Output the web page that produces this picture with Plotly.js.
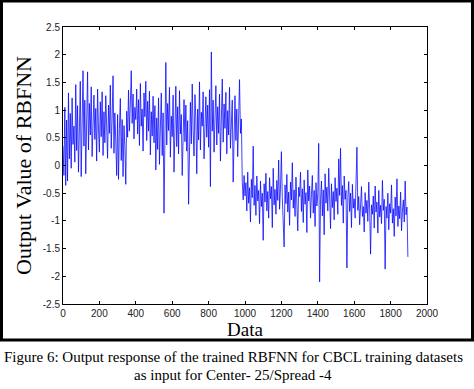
<!DOCTYPE html>
<html>
<head>
<meta charset="utf-8">
<script src="https://cdn.plot.ly/plotly-3.0.1.min.js"></script>
<style>
html,body{margin:0;padding:0;background:#fff;}
#chart{width:474px;height:389px;}
</style>
</head>
<body>
<div id="chart"></div>
<script>
// Sample spacing along the "Data" axis (values read every 5 samples)
const sampleStep = 5;

// Output values, first class (samples 0..980)
const classAValues = [
  0.35, -0.18, 1.05, -0.36, 0.82, -0.28, 1.31, 0.12, 0.94, -0.05, 1.22, 0.38, 0.71, 0.06, 1.46, 0.27, 1.08, -0.12, 0.64, 1.52,
  -0.2, 0.88, 1.71, 0.35, 1.18, -0.15, 0.79, 1.69, 0.28, 1.12, 0.55, 1.42, 0.16, 0.93, 1.27, 0.47, 1.03, 0.08, 1.38, 0.66,
  0.24, 1.15, 0.52, 1.33, 0.18, 0.97, 0.41, 1.26, 0.74, 0.13, 1.09, 0.58, 1.45, 0.31, 0.86, 1.62, 0.22, 0.95, 0.44, -0.18,
  0.92, -0.25, 0.67, 1.21, 0.09, 0.83, -0.2, 0.72, 0.33, -0.34, 0.98, 0.51, 1.36, 0.62, 1.11, 1.71, 0.76, 1.29, 0.48, 1.05,
  0.83, 1.38, 0.57, 1.19, 0.36, 1.48, 0.71, 1.02, 0.26, 1.31, 0.88, 1.52, 0.45, 1.16, 0.62, 1.34, 0.19, 0.97, 0.53, 1.25,
  0.41, 1.08, -0.08, 0.86, 0.29, 1.22, 0.02, 0.74, 1.31, 0.18, 0.95, -0.86, 0.48, 1.86, 0.37, 1.12, 0.63, 1.41, 0.15, 0.89,
  0.52, 1.27, -0.12, 0.78, 1.43, 0.34, 1.06, 0.21, 1.35, 0.57, 0.92, -0.18, 0.68, 1.19, 0.43, 1.09, 0.26, 0.81, -0.7, 0.55,
  1.14, 0.39, 1.47, 0.63, 0.17, 1.28, 0.84, -0.15, 1.02, 0.46, 1.51, 0.28, 0.96, 0.71, 1.33, 0.12, 0.88, 1.24, 0.51, 1.09,
  0.33, 1.37, -0.38, 2.05, 0.62, 1.18, 0.24, 0.91, 1.44, 0.37, 1.06, 0.58, 1.29, 0.08, 0.83, 1.56, 0.42, 1.11, 0.67, 1.32,
  0.21, 0.99, 0.55, 1.41, 0.31, 0.87, 1.18, -0.3, 0.74, 1.26, 0.45, 1.02, 0.16, 0.93, 1.55, 0.58, 0.84
];

// Output values, second class (samples 985..1895)
const classBValues = [
  -0.29, -0.62, -0.18,
  -0.55, -0.31, -0.82, -0.12, -0.68, -0.4, -1.02, -0.25, -0.58, 0.35, -0.72, -0.36, -0.9, -0.19, -0.64, -0.45, -1.05, -0.28, -0.74, -0.5,
  -1.35, -0.33, -0.66, -0.14, -0.82, -0.47, -0.95, -0.22, -0.6, -0.38, -1.12, -0.05, -0.71, -0.43, -0.88, -0.27, -0.63, 0.1, -0.79, -0.41,
  0.25, -0.58, -0.97, -1.47, -0.35, -0.69, -0.16, -0.84, -0.48, -1.08, -0.3, -0.62, 0.05, -0.77, -0.44, -0.92, -0.21, -0.67, -1.18, -0.39,
  -0.56, -0.12, -0.83, -0.42, -1.03, -0.26, -0.7, -0.49, -1.21, -0.08, -0.64, -0.37, -0.95, -0.53, -0.18, -0.86, -0.45, -1.1, -0.31, -0.73,
  -0.5, 0.4, -2.1, -0.62, -0.28, -0.91, -0.44, -1.25, -0.15, -0.68, -0.39, -0.82, -0.05, -0.57, -1.14, -0.33, -0.76, -0.47, -0.98, -0.22,
  -0.65, -0.41, -0.88, 0.12, -0.54, 0.31, -0.72, -0.36, -1.04, -0.19, -0.61, -0.45, -1.85, -0.58, -0.29, -0.83, -0.5, -1.12, -0.34, -0.77,
  -0.6, -0.95, -0.42, 0.33, -0.81, -0.56, -1.07, -0.68, -0.38, -0.92, -0.74, -1.2, -0.49, -0.86, -0.63, -1.01, -0.3, -0.79, -1.6, -0.71,
  -0.88, -0.55, -1.13, -0.37, -0.84, -0.66, -1.22, -0.45, -0.93, -0.72, -1.05, -0.27, -0.81, -0.61, -1.87, -0.74, -0.95, -0.5, -1.16, -0.69,
  -0.86, -0.35, -1.04, -0.78, -1.28, -0.57, -0.91, -0.24, -1.1, -0.73, -0.96, -0.48, -1.18, -0.82, -0.62, -1.02, -0.28, -0.89, -0.75, -1.65
];

const xTickVals = [0, 200, 400, 600, 800, 1000, 1200, 1400, 1600, 1800, 2000];
const yTickVals = [-2.5, -2, -1.5, -1, -0.5, 0, 0.5, 1, 1.5, 2, 2.5];
const yTickText = ['-2.5', '-2', '-1.5', '-1', '-0.5', '0', '0.5', '1', '1.5', '2', '2.5'];

const xTitle = 'Data';
const yTitle = 'Output Value of RBFNN';
const captionLines = [
  'Figure 6: Output response of the trained RBFNN for CBCL training datasets',
  'as input for Center- 25/Spread -4'
];

const yValues = classAValues.concat(classBValues);
const xValues = yValues.map((_, i) => i * sampleStep);

const trace = {
  x: xValues,
  y: yValues,
  type: 'scatter',
  mode: 'lines',
  line: {color: 'rgb(0,0,255)', width: 0.75},
  hoverinfo: 'skip'
};

const axisFont = {family: 'Liberation Sans, Arial, sans-serif', size: 10, color: '#222'};
const serif = 'Liberation Serif, Times New Roman, serif';

// paper-coordinate conversion helpers for the outer frame
const L = 63, R = 474 - 427, T = 27, B = 389 - 304;
const pw = 474 - L - R, ph = 389 - T - B;
const px = v => (v - L) / pw;
const py = v => (389 - B - v) / ph;

const layout = {
  width: 474,
  height: 389,
  paper_bgcolor: '#fff',
  plot_bgcolor: '#fff',
  showlegend: false,
  margin: {l: L, r: R, t: T, b: B},
  xaxis: {
    range: [0, 2000],
    tickvals: xTickVals,
    ticktext: xTickVals.map(String),
    ticks: 'inside',
    ticklen: 3,
    tickcolor: '#000',
    showline: true,
    linecolor: '#000',
    linewidth: 1,
    mirror: 'ticks',
    showgrid: false,
    zeroline: false,
    tickfont: axisFont,
    title: {text: xTitle, font: {family: serif, size: 19, color: '#000'}, standoff: 1}
  },
  yaxis: {
    range: [-2.5, 2.5],
    tickvals: yTickVals,
    ticktext: yTickText,
    ticks: 'inside',
    ticklen: 3,
    tickcolor: '#000',
    showline: true,
    linecolor: '#000',
    linewidth: 1,
    mirror: 'ticks',
    showgrid: false,
    zeroline: false,
    tickfont: axisFont,
    title: {text: yTitle, font: {family: serif, size: 22, color: '#000'}, standoff: 5}
  },
  annotations: [
    {
      xref: 'paper', yref: 'paper', x: px(233), y: py(357),
      xanchor: 'center', yanchor: 'middle', showarrow: false,
      text: captionLines[0],
      font: {family: serif, size: 15, color: '#000'}
    },
    {
      xref: 'paper', yref: 'paper', x: px(233), y: py(375),
      xanchor: 'center', yanchor: 'middle', showarrow: false,
      text: captionLines[1],
      font: {family: serif, size: 15, color: '#000'}
    }
  ],
  shapes: [
    {
      type: 'rect', xref: 'paper', yref: 'paper',
      x0: px(1.5), x1: px(472.5), y0: py(1), y1: py(340),
      line: {color: '#000', width: 3}, fillcolor: 'rgba(0,0,0,0)', layer: 'above'
    }
  ]
};

Plotly.newPlot('chart', [trace], layout, {staticPlot: true, displayModeBar: false});
</script>
</body>
</html>
